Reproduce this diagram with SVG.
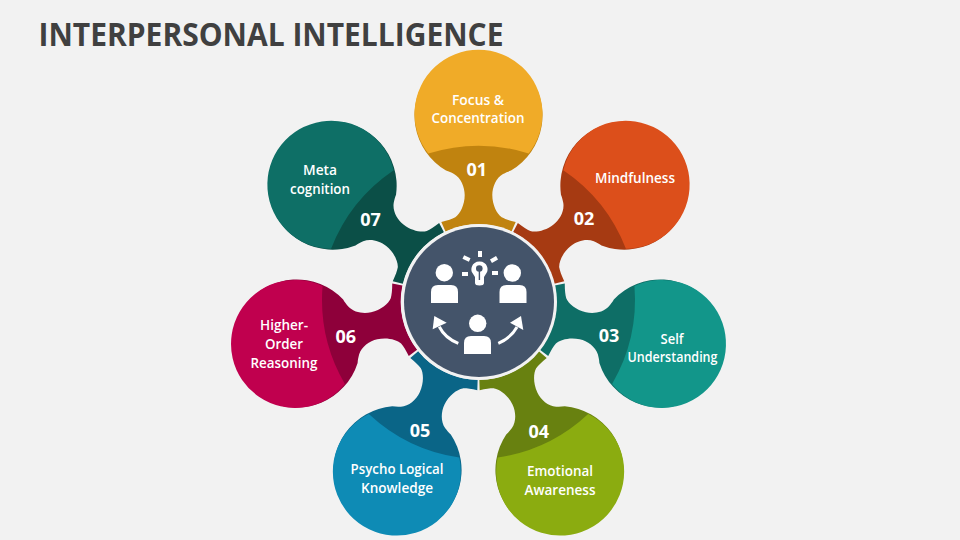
<svg xmlns="http://www.w3.org/2000/svg" width="960" height="540" viewBox="0 0 960 540">
<style>
.t{font-family:"Open Sans","Liberation Sans",sans-serif;font-size:13.5px;font-weight:600;fill:#fff;text-anchor:middle}
.n{font-family:"Open Sans","Liberation Sans",sans-serif;font-size:18px;font-weight:700;fill:#fff;text-anchor:middle}
.title{font-family:"Open Sans","Liberation Sans",sans-serif;font-size:33px;font-weight:700;fill:#404040}
.w{fill:#fff}
.a{fill:none;stroke:#fff;stroke-width:3}
</style>
<defs>
<path id="petal" d="M441.3,222 L445.5,231.5 A78,78 0 0 1 511.5,231.5 L515.700,222 C509,220.500 505,219 501.700,217.300 C497,214 492.300,205 492.300,195 C492.300,187 496,178 503,174 C506,172.500 508,171.500 511,170.600 A64,64 0 1 0 446,170.600 C449,171.500 451,172.500 454,174 C461,178 464.700,187 464.700,195 C464.700,205 460,214 455.300,217.300 C452,219 448,220.500 441.300,222 Z"/>
<path id="light" d="M428.3,153.500 A64,64 0 1 1 528.700,153.500 A168,168 0 0 0 428.300,153.500 Z"/>
<path id="body" d="M0,18 V7 Q0,0 7,0 H20 Q27,0 27,7 V18 Z"/>
</defs>
<rect width="960" height="540" fill="#f2f2f2"/>
<text id="title" class="title" x="38.500" y="45.500" textLength="465" lengthAdjust="spacingAndGlyphs">INTERPERSONAL INTELLIGENCE</text>
<g id="node-01"><use href="#petal" fill="#c0830f"/><use href="#light" fill="#f0ab28"/><text class="t" x="478" y="105" textLength="52" lengthAdjust="spacingAndGlyphs">Focus &amp;</text><text class="t" x="478" y="123.300" textLength="93" lengthAdjust="spacingAndGlyphs">Concentration</text><text class="n" x="476.700" y="175.500">01</text></g>
<g id="node-02"><g transform="rotate(51.43 478.5 302)"><use href="#petal" fill="#a63a12"/><use href="#light" fill="#dc4f1b"/></g><text class="t" x="635" y="182.700" textLength="80" lengthAdjust="spacingAndGlyphs">Mindfulness</text><text class="n" x="584" y="225">02</text></g>
<g id="node-03"><g transform="rotate(102.86 478.5 302)"><use href="#petal" fill="#0e6e66"/><use href="#light" fill="#12968a"/></g><text class="t" x="672" y="343.500" textLength="23" lengthAdjust="spacingAndGlyphs">Self</text><text class="t" x="672.500" y="361.700" textLength="90" lengthAdjust="spacingAndGlyphs">Understanding</text><text class="n" x="609" y="342">03</text></g>
<g id="node-04"><g transform="rotate(154.29 478.5 302)"><use href="#petal" fill="#688110"/><use href="#light" fill="#8bac10"/></g><text class="t" x="560" y="475.700" textLength="66" lengthAdjust="spacingAndGlyphs">Emotional</text><text class="t" x="560" y="494.700" textLength="71" lengthAdjust="spacingAndGlyphs">Awareness</text><text class="n" x="538.700" y="437.500">04</text></g>
<g id="node-05"><g transform="rotate(205.71 478.5 302)"><use href="#petal" fill="#0a6587"/><use href="#light" fill="#0e8bb5"/></g><text class="t" x="397" y="473.500" textLength="93" lengthAdjust="spacingAndGlyphs">Psycho Logical</text><text class="t" x="397" y="492.700" textLength="72" lengthAdjust="spacingAndGlyphs">Knowledge</text><text class="n" x="420" y="436.700">05</text></g>
<g id="node-06"><g transform="rotate(257.14 478.5 302)"><use href="#petal" fill="#8e003a"/><use href="#light" fill="#c0004e"/></g><text class="t" x="284" y="330" textLength="48" lengthAdjust="spacingAndGlyphs">Higher-</text><text class="t" x="284" y="348.700" textLength="38" lengthAdjust="spacingAndGlyphs">Order</text><text class="t" x="284" y="367.700" textLength="67" lengthAdjust="spacingAndGlyphs">Reasoning</text><text class="n" x="345.700" y="342.700">06</text></g>
<g id="node-07"><g transform="rotate(308.57 478.5 302)"><use href="#petal" fill="#0b4f47"/><use href="#light" fill="#0e6f66"/></g><text class="t" x="320" y="175" textLength="34" lengthAdjust="spacingAndGlyphs">Meta</text><text class="t" x="320" y="193.500" textLength="60" lengthAdjust="spacingAndGlyphs">cognition</text><text class="n" x="370.500" y="225.500">07</text></g>
<g id="hub">
<circle cx="479" cy="302" r="78" fill="#f2f2f2"/><circle cx="479" cy="302" r="75" fill="#44546a"/>
<circle class="w" cx="444.300" cy="272.700" r="8.700"/><use href="#body" class="w" x="431" y="285"/>
<circle class="w" cx="512.300" cy="273" r="8.700"/><use href="#body" class="w" x="499.500" y="285"/>
<circle class="w" cx="477.700" cy="323.300" r="8.700"/><use href="#body" class="w" x="464" y="336"/>
<path class="w" d="M472.500,273 C470,270 471.500,261.500 479.500,261.500 C487.500,261.500 489,270 486.500,273 L484,277 V283 Q484,285.500 479.500,285.500 Q475,285.500 475,283 V277 Z"/>
<circle cx="479.300" cy="268.500" r="3.300" fill="#44546a"/><rect x="478.700" y="271" width="1.400" height="9" fill="#44546a"/>
<rect class="w" x="478" y="251" width="4" height="6"/><rect class="w" x="462" y="272" width="6" height="4"/><rect class="w" x="492" y="271" width="6" height="4"/>
<rect class="w" x="463" y="256.500" width="7" height="4" transform="rotate(25 466.500 258.500)"/><rect class="w" x="490.500" y="257.500" width="7" height="4" transform="rotate(-30 494 259.500)"/>
<path class="a" d="M458.300,343.300 Q445,338 439.300,326.700"/><path class="w" d="M434.300,316 L432.700,329.300 L446.700,322.700 Z"/>
<path class="a" d="M498.300,343.300 Q511,338 517,327"/><path class="w" d="M521,316 L510,322.700 L523.300,330 Z"/>
</g>
</svg>
